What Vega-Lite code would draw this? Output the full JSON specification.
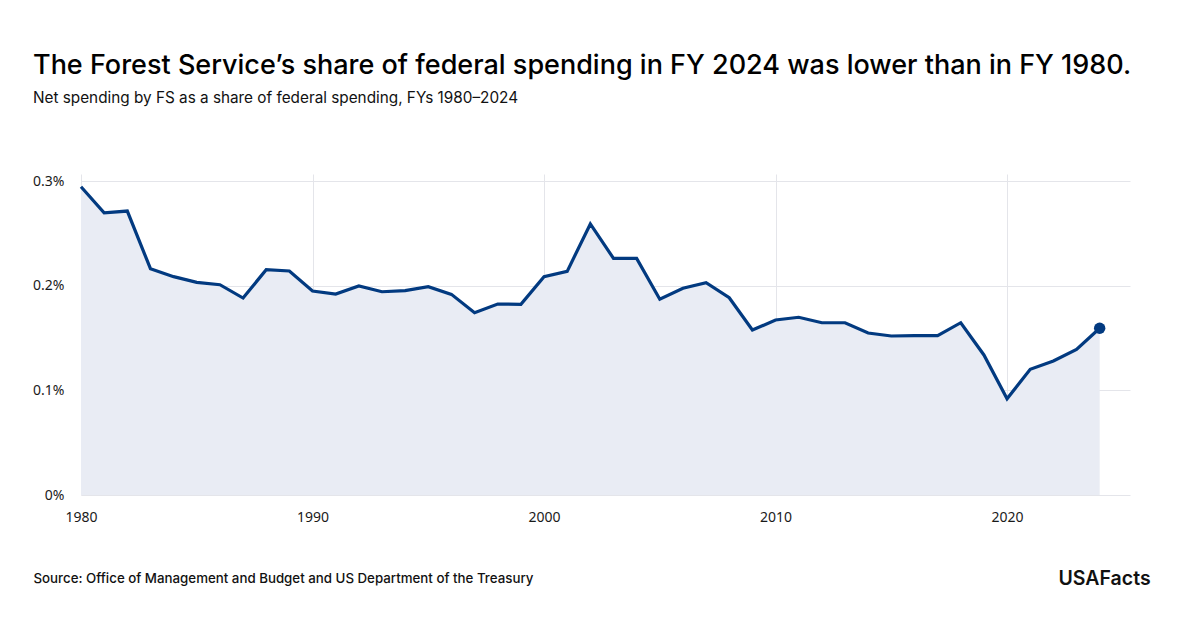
{
  "$schema": "https://vega.github.io/schema/vega-lite/v6.json",
  "autosize": "none",
  "width": 1049,
  "height": 321,
  "padding": {"left": 81, "top": 174, "right": 70, "bottom": 133},
  "background": "white",
  "title": {
    "text": "The Forest Service’s share of federal spending in FY 2024 was lower than in FY 1980.",
    "subtitle": "Net spending by FS as a share of federal spending, FYs 1980–2024",
    "anchor": "start",
    "frame": "group",
    "dx": -48,
    "offset": 67,
    "font": "Inter",
    "fontSize": 27,
    "fontWeight": 500,
    "color": "#000000",
    "subtitleFont": "Inter",
    "subtitleFontSize": 15.3,
    "subtitleFontWeight": 400,
    "subtitleColor": "#111111",
    "subtitlePadding": 11
  },
  "data": {
    "values": [
      {"year": 1980, "share": 0.2945},
      {"year": 1981, "share": 0.2697},
      {"year": 1982, "share": 0.2713},
      {"year": 1983, "share": 0.2162},
      {"year": 1984, "share": 0.2086},
      {"year": 1985, "share": 0.2032},
      {"year": 1986, "share": 0.2009},
      {"year": 1987, "share": 0.1882},
      {"year": 1988, "share": 0.2153},
      {"year": 1989, "share": 0.2140},
      {"year": 1990, "share": 0.1949},
      {"year": 1991, "share": 0.1920},
      {"year": 1992, "share": 0.1997},
      {"year": 1993, "share": 0.1942},
      {"year": 1994, "share": 0.1952},
      {"year": 1995, "share": 0.1990},
      {"year": 1996, "share": 0.1917},
      {"year": 1997, "share": 0.1742},
      {"year": 1998, "share": 0.1825},
      {"year": 1999, "share": 0.1822},
      {"year": 2000, "share": 0.2086},
      {"year": 2001, "share": 0.2137},
      {"year": 2002, "share": 0.2590},
      {"year": 2003, "share": 0.2261},
      {"year": 2004, "share": 0.2261},
      {"year": 2005, "share": 0.1870},
      {"year": 2006, "share": 0.1975},
      {"year": 2007, "share": 0.2029},
      {"year": 2008, "share": 0.1885},
      {"year": 2009, "share": 0.1576},
      {"year": 2010, "share": 0.1672},
      {"year": 2011, "share": 0.1698},
      {"year": 2012, "share": 0.1646},
      {"year": 2013, "share": 0.1646},
      {"year": 2014, "share": 0.1548},
      {"year": 2015, "share": 0.1519},
      {"year": 2016, "share": 0.1522},
      {"year": 2017, "share": 0.1522},
      {"year": 2018, "share": 0.1646},
      {"year": 2019, "share": 0.1338},
      {"year": 2020, "share": 0.0920},
      {"year": 2021, "share": 0.1201},
      {"year": 2022, "share": 0.1280},
      {"year": 2023, "share": 0.1392},
      {"year": 2024, "share": 0.1593}
    ]
  },
  "encoding": {
    "x": {
      "field": "year",
      "type": "quantitative",
      "scale": {"domain": [1980, 2025.31], "nice": false, "zero": false},
      "axis": {
        "values": [1980, 1990, 2000, 2010, 2020],
        "format": "d",
        "grid": true,
        "gridColor": "#e4e5ea",
        "gridWidth": 1,
        "domain": false,
        "ticks": false,
        "labelFlush": false,
        "labelBound": false,
        "labelPadding": 15,
        "labelFont": "Noto Sans",
        "labelFontSize": 14,
        "labelColor": "#1a1a1a",
        "title": "Source: Office of Management and Budget and US Department of the Treasury",
        "titleFont": "Inter",
        "titleFontSize": 13.3,
        "titleFontWeight": 500,
        "titleColor": "#111111",
        "titleAnchor": "start",
        "titleAlign": "left",
        "titleBaseline": "alphabetic",
        "titleX": -48,
        "titleY": 87
      }
    },
    "y": {
      "field": "share",
      "type": "quantitative",
      "scale": {"domain": [0, 0.3067], "nice": false},
      "axis": {
        "values": [0, 0.1, 0.2, 0.3],
        "labelExpr": "datum.value == 0 ? '0%' : format(datum.value, '.1f') + '%'",
        "grid": true,
        "gridColor": "#e4e5ea",
        "gridWidth": 1,
        "domain": false,
        "ticks": false,
        "labelFlush": false,
        "labelPadding": 17,
        "labelFont": "Noto Sans",
        "labelFontSize": 14,
        "labelColor": "#1a1a1a",
        "title": "USAFacts",
        "titleAngle": 0,
        "titleFont": "Inter",
        "titleFontSize": 19.5,
        "titleFontWeight": 600,
        "titleColor": "#111111",
        "titleAlign": "left",
        "titleBaseline": "alphabetic",
        "titleX": 977,
        "titleY": 410
      }
    }
  },
  "layer": [
    {"mark": {"type": "area", "color": "#e9ecf4", "opacity": 1}},
    {"mark": {"type": "line", "color": "#023a80", "strokeWidth": 3.2, "strokeJoin": "miter"}},
    {
      "transform": [{"filter": "datum.year == 2024"}],
      "mark": {"type": "point", "filled": true, "color": "#023a80", "size": 130, "opacity": 1}
    }
  ],
  "config": {"view": {"stroke": null}}
}
